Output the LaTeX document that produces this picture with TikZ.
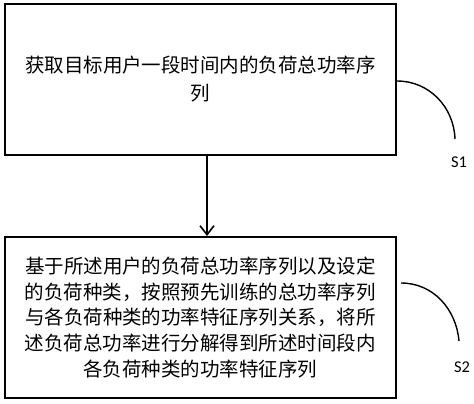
\documentclass[tikz,border=0pt]{standalone}
\usepackage{fontspec}
\newfontfamily\cjk{Noto Sans CJK SC}
\setsansfont{Carlito}
\usetikzlibrary{arrows.meta}

\tikzset{
  stepbox/.style={draw, line width=2pt, minimum width=391pt, text width=370pt,
    align=center, inner sep=0pt},
  tagline/.style={line width=1.4pt},
  taglabel/.style={font=\sffamily\fontsize{16.5}{18}\selectfont}
}

\begin{document}
\begin{tikzpicture}[x=1pt,y=-1pt]
  \useasboundingbox (0,0) rectangle (474,404);
  % Steps
  \node[stepbox, minimum height=151pt, font=\cjk\fontsize{19.5}{28}\selectfont]
    (getseq) at (200.5,79.5) {获取目标用户一段时间内的负荷总功率序\\列};
  \node[stepbox, minimum height=161pt, font=\cjk\fontsize{19.5}{25.8}\selectfont]
    (splitseq) at (200.5,317.5) {基于所述用户的负荷总功率序列以及设定\\的负荷种类，按照预先训练的总功率序列\\与各负荷种类的功率特征序列关系，将所\\述负荷总功率进行分解得到所述时间段内\\各负荷种类的功率特征序列};
  % Arrow
  \draw[-{Straight Barb[length=9pt,width=14pt]}, line width=1.6pt]
    ([xshift=6.5pt]getseq.south) -- ([xshift=6.5pt]splitseq.north);
  % Tags
  \node[taglabel] (s1) at (459,162) {S1};
  \node[taglabel] (s2) at (462,367) {S2};
  \coordinate (s1end) at (455,139);
  \coordinate (s2start) at (401,283);
  \coordinate (s2end) at (459,341);
  \draw[tagline] ([yshift=-1.5pt]getseq.east) to[out=0,in=92] (s1end);
  \draw[tagline] (s2start) to[out=0,in=95] (s2end);
\end{tikzpicture}
\end{document}
